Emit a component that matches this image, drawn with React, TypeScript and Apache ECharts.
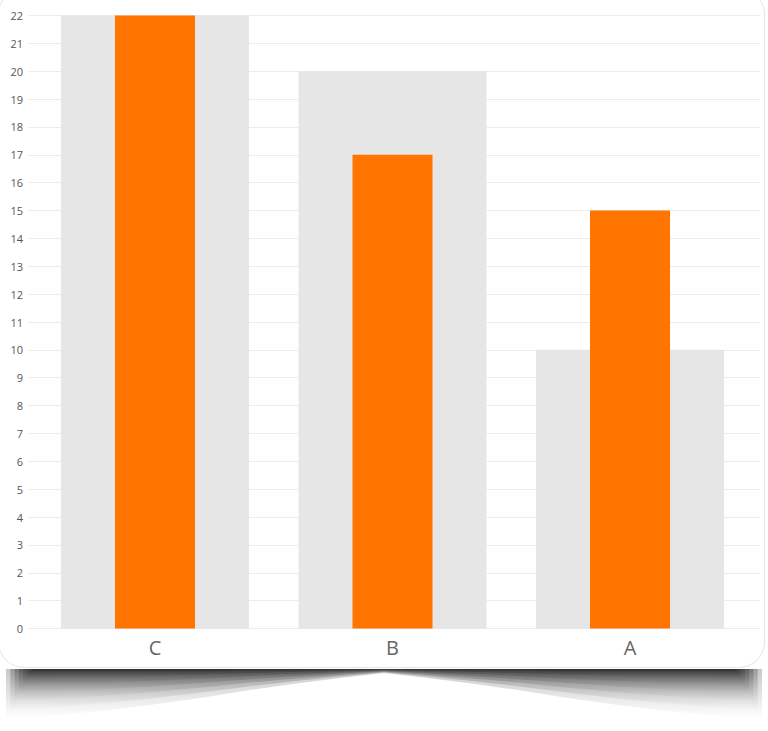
import { useEffect, useRef } from 'react';
import * as echarts from 'echarts';

// data
const categories = ['C', 'B', 'A'];
const backValues = [22, 20, 10];
const frontValues = [22, 17, 15];
const yMin = 0;
const yMax = 22;
const yStep = 1;

const GRID_TOP = 15.5;
const GRID_BOTTOM = 731 - 628.5;

// curved shadow under the card: depth of the shadow along the left half
const SHADOW_TOP = 669;
const shadowProfile = [
  [384, 4], [340, 9], [300, 14], [250, 21], [200, 29], [150, 36], [100, 42], [60, 46], [30, 49], [6, 49],
];
const SHADOW_LAYERS = 7;

const buildShadow = () => {
  const items: any[] = [];
  for (let k = 1; k <= SHADOW_LAYERS; k++) {
    const f = Math.pow(k / SHADOW_LAYERS, 1.3);
    const edge = 6 + 30 * (1 - k / SHADOW_LAYERS);
    const left = [[edge, SHADOW_TOP], [384, SHADOW_TOP]].concat(
      shadowProfile.map(([x, d]) => [Math.max(x, edge), SHADOW_TOP + d * f])
    );
    const right = left.map(([x, y]) => [768 - x, y]);
    [left, right].forEach((pts) => {
      items.push({
        type: 'polygon',
        silent: true,
        shape: { points: pts },
        style: {
          fill: new echarts.graphic.LinearGradient(0, 0, 0, 1, [
            { offset: 0, color: 'rgba(0,0,0,0.22)' },
            { offset: 1, color: 'rgba(0,0,0,0)' },
          ]),
        },
      });
    });
  }
  return items;
};

const App = () => {
  const chartDom = useRef<HTMLDivElement>(null);

  useEffect(() => {
    document.body.style.margin = '0';
    const chart = echarts.init(chartDom.current, null, { renderer: 'svg' });

    const option = {
      animation: false,
      backgroundColor: 'transparent',
      grid: [
        // grid lines + y labels
        { left: 28, right: 8, top: GRID_TOP, bottom: GRID_BOTTOM },
        // bars
        { left: 36.25, right: 19.25, top: GRID_TOP, bottom: GRID_BOTTOM },
      ],
      xAxis: [
        { type: 'category', gridIndex: 0, data: categories, show: false },
        {
          type: 'category',
          gridIndex: 1,
          data: categories,
          axisLine: { show: false },
          axisTick: { show: false },
          axisLabel: {
            color: '#666',
            fontSize: 20,
            margin: 9,
            fontFamily: 'Open Sans',
          },
        },
        { type: 'category', gridIndex: 1, data: categories, show: false },
      ],
      yAxis: [
        {
          type: 'value',
          gridIndex: 0,
          min: yMin,
          max: yMax,
          interval: yStep,
          axisLine: { show: false },
          axisTick: { show: false },
          axisLabel: {
            color: '#555',
            fontSize: 11,
            margin: 5,
            fontFamily: 'Open Sans',
          },
          splitLine: { lineStyle: { color: '#ececec', width: 1 } },
        },
        {
          type: 'value',
          gridIndex: 1,
          min: yMin,
          max: yMax,
          interval: yStep,
          show: false,
          splitLine: { show: false },
        },
      ],
      series: [
        {
          type: 'bar',
          xAxisIndex: 1,
          yAxisIndex: 1,
          data: backValues,
          barWidth: 188,
          itemStyle: { color: '#e6e6e6' },
          silent: true,
        },
        {
          type: 'bar',
          xAxisIndex: 2,
          yAxisIndex: 1,
          data: frontValues,
          barWidth: 80,
          itemStyle: { color: '#ff7500' },
          silent: true,
        },
      ],
      graphic: buildShadow(),
    };

    chart.setOption(option);
    return () => {
      chart.dispose();
    };
  }, []);

  return (
    <div style={{ position: 'relative', width: 768, height: 731, overflow: 'hidden', background: '#fff' }}>
      <div
        style={{
          position: 'absolute',
          left: -2,
          top: -12,
          width: 767,
          height: 680,
          borderRadius: 26,
          border: '1px solid #e6e6e6',
          background: '#fff',
          boxSizing: 'border-box',
        }}
      />
      <div ref={chartDom} style={{ position: 'absolute', left: 0, top: 0, width: 768, height: 731 }} />
    </div>
  );
};

export default App;
